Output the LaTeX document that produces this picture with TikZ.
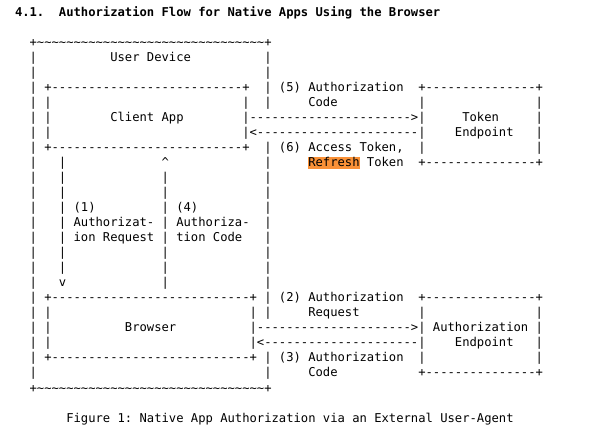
\documentclass[tikz,border=0pt]{standalone}
\usepackage{fontspec}
\newfontfamily\monofont{DejaVu Sans Mono}
\ExplSyntaxOn
\cs_new:Npn \reptok #1#2 {\prg_replicate:nn{#1}{#2}}
\ExplSyntaxOff
\definecolor{hl}{RGB}{250,145,55}
\newcommand\tld{\char"7E}
\newcommand\crt{\char"5E}
\newcommand\txt[4]{\node[mono] (#1) at ({15+7.333*#2},{-17-15*#3}) {#4};}
\tikzset{
  mono/.style={font=\monofont\fontsize{12.18}{15}\selectfont\frenchspacing, inner sep=0pt, outer sep=0pt, anchor=base west, text=black},
  titlefont/.style={font=\monofont\bfseries\fontsize{12.18}{15}\selectfont\frenchspacing},
  hlbox/.style={fill=hl, text height=10pt, text depth=2.5pt}
}
\begin{document}
\begin{tikzpicture}[x=1pt,y=1pt]
\useasboundingbox[fill=white] (0,0) rectangle (597,-443);
% title
\node[mono,titlefont] (titleA) at ({15+7.333*0},{-17}) {4.1.};
\node[mono,titlefont] (titleB) at ({15+7.333*6},{-17}) {Authorization Flow for Native Apps Using the Browser};
% outer user device box
\txt{outerTop}{2}{2}{+\reptok{31}{\tld}+}
\txt{outerBot}{2}{25}{+\reptok{31}{\tld}+}
\foreach \r in {3,...,24} {\txt{oL\r}{2}{\r}{|}}
\foreach \r in {3,4,5,6,9,10,11,12,13,14,15,16,17,18,19,20,23,24} {\txt{oR\r}{34}{\r}{|}}
\txt{userdev}{13}{3}{User Device}
% client app box
\txt{caTop}{4}{5}{+\reptok{26}{-}+}
\txt{caBot}{4}{9}{+\reptok{26}{-}+}
\foreach \r in {6,7,8} {\txt{caL\r}{4}{\r}{|}}
\txt{caR6}{31}{6}{|}
\txt{clientapp}{13}{7}{Client App}
% arrows client <-> token endpoint
\txt{arrow5}{31}{7}{|\reptok{22}{-}>|}
\txt{arrow6}{31}{8}{|<\reptok{22}{-}|}
% token endpoint box
\txt{teTop}{55}{5}{+\reptok{15}{-}+}
\txt{teBot}{55}{10}{+\reptok{15}{-}+}
\foreach \r in {6,7,8,9} {\txt{teR\r}{71}{\r}{|}}
\txt{teL6}{55}{6}{|}
\txt{teL9}{55}{9}{|}
\txt{token}{61}{7}{Token}
\txt{tendpoint}{60}{8}{Endpoint}
% labels 5 and 6
\txt{lab5}{36}{5}{(5) Authorization}
\txt{lab5b}{40}{6}{Code}
\txt{lab6}{36}{9}{(6) Access Token,}
\node[mono,hlbox] (refresh) at ({15+7.333*40},{-17-15*10}) {Refresh};
\txt{lab6c}{48}{10}{Token}
% vertical arrows 1 and 4
\foreach \r in {10,...,17} {\txt{a1\r}{6}{\r}{|}}
\txt{a1head}{6}{18}{v}
\txt{a4head}{20}{10}{\crt}
\foreach \r in {11,...,18} {\txt{a4\r}{20}{\r}{|}}
\txt{lab1}{8}{13}{(1)}
\txt{lab1b}{8}{14}{Authorizat-}
\txt{lab1c}{8}{15}{ion Request}
\txt{lab4}{22}{13}{(4)}
\txt{lab4b}{22}{14}{Authoriza-}
\txt{lab4c}{22}{15}{tion Code}
% browser box
\txt{brTop}{4}{19}{+\reptok{27}{-}+}
\txt{brBot}{4}{23}{+\reptok{27}{-}+}
\foreach \r in {20,21,22} {\txt{brL\r}{4}{\r}{|}}
\txt{brR20}{32}{20}{|}
\txt{browser}{15}{21}{Browser}
% arrows browser <-> authorization endpoint
\txt{arrow2}{32}{21}{|\reptok{21}{-}>|}
\txt{arrow3}{32}{22}{|<\reptok{21}{-}|}
% authorization endpoint box
\txt{aeTop}{55}{19}{+\reptok{15}{-}+}
\txt{aeBot}{55}{24}{+\reptok{15}{-}+}
\foreach \r in {20,21,22,23} {\txt{aeR\r}{71}{\r}{|}}
\txt{aeL20}{55}{20}{|}
\txt{aeL23}{55}{23}{|}
\txt{authz}{57}{21}{Authorization}
\txt{aendpoint}{60}{22}{Endpoint}
% labels 2 and 3
\txt{lab2}{36}{19}{(2) Authorization}
\txt{lab2b}{40}{20}{Request}
\txt{lab3}{36}{23}{(3) Authorization}
\txt{lab3b}{40}{24}{Code}
% caption
\txt{caption}{7}{27}{Figure 1: Native App Authorization via an External User-Agent}
\end{tikzpicture}
\end{document}
